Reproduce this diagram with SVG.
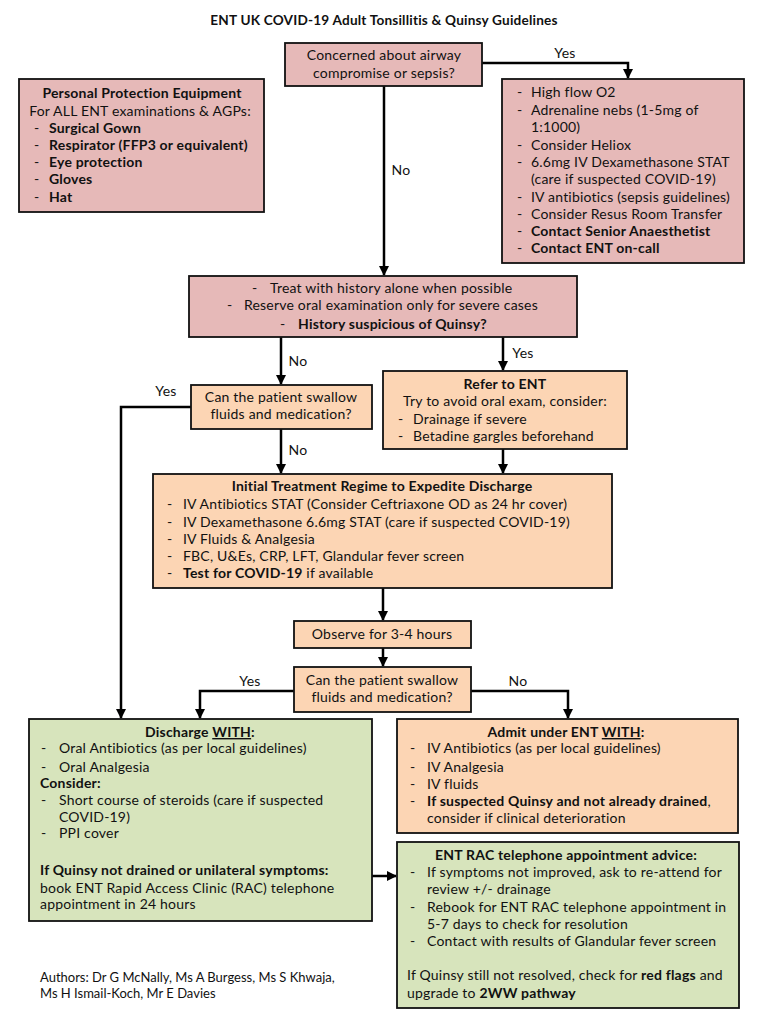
<svg xmlns="http://www.w3.org/2000/svg" width="768" height="1024" viewBox="0 0 768 1024">
<style>
text{font-family:Lato,"Open Sans","Liberation Sans",sans-serif;font-size:14px;letter-spacing:0.2px;fill:#111}
.b{font-weight:bold}
.c{text-anchor:middle}
.pink{fill:#e6b9b8;stroke:#111;stroke-width:1.8}
.peach{fill:#fcd5b4;stroke:#111;stroke-width:1.8}
.green{fill:#d7e4bc;stroke:#111;stroke-width:1.8}
.ln{fill:none;stroke:#000;stroke-width:2.5}
</style>
<defs>
<marker id="ah" viewBox="0 0 10 10" refX="9" refY="5" markerWidth="4" markerHeight="4" orient="auto" markerUnits="strokeWidth">
<path d="M0,0 L10,5 L0,10 Z" fill="#000"/>
</marker>
</defs>
<rect width="768" height="1024" fill="#fff"/>
<text x="384" y="25" class="b c" style="font-size:13.6px">ENT UK COVID-19 Adult Tonsillitis &amp; Quinsy Guidelines</text>

<g id="connectors">
<polyline class="ln" points="482,63 628,63 628,78" marker-end="url(#ah)"/>
<polyline class="ln" points="384,86 384,275" marker-end="url(#ah)"/>
<polyline class="ln" points="281,337 281,384" marker-end="url(#ah)"/>
<polyline class="ln" points="503,337 503,370" marker-end="url(#ah)"/>
<polyline class="ln" points="191,407 121,407 121,718" marker-end="url(#ah)"/>
<polyline class="ln" points="281,429 281,473" marker-end="url(#ah)"/>
<polyline class="ln" points="503,449 503,473" marker-end="url(#ah)"/>
<polyline class="ln" points="383,588 383,620" marker-end="url(#ah)"/>
<polyline class="ln" points="383,648 383,666" marker-end="url(#ah)"/>
<polyline class="ln" points="294,691 200,691 200,718" marker-end="url(#ah)"/>
<polyline class="ln" points="471,691 568,691 568,718" marker-end="url(#ah)"/>
<polyline class="ln" points="372,876 396,876" marker-end="url(#ah)"/>
<text x="565" y="58" class="c">Yes</text>
<text x="401" y="175" class="c">No</text>
<text x="298" y="366" class="c">No</text>
<text x="523" y="358" class="c">Yes</text>
<text x="166" y="396" class="c">Yes</text>
<text x="298" y="455" class="c">No</text>
<text x="250" y="686" class="c">Yes</text>
<text x="518" y="686" class="c">No</text>
</g>

<g id="airway">
<rect class="pink" x="285" y="43" width="197" height="43"/>
<text x="384" y="60" class="c">Concerned about airway</text>
<text x="384" y="78" class="c">compromise or sepsis?</text>
</g>

<g id="ppe">
<rect class="pink" x="19" y="79" width="245" height="133"/>
<text x="142" y="98" class="b c">Personal Protection Equipment</text>
<text x="140" y="116" class="c">For ALL ENT examinations &amp; AGPs:</text>
<text x="34" y="133">-</text><text x="49" y="133" class="b">Surgical Gown</text>
<text x="34" y="150">-</text><text x="49" y="150" class="b">Respirator (FFP3 or equivalent)</text>
<text x="34" y="167">-</text><text x="49" y="167" class="b">Eye protection</text>
<text x="34" y="184">-</text><text x="49" y="184" class="b">Gloves</text>
<text x="34" y="202">-</text><text x="49" y="202" class="b">Hat</text>
</g>

<g id="airway-actions">
<rect class="pink" x="502" y="79" width="242" height="184"/>
<text x="517" y="97">-</text><text x="531" y="97">High flow O2</text>
<text x="517" y="115">-</text><text x="531" y="115">Adrenaline nebs (1-5mg of</text>
<text x="531" y="132">1:1000)</text>
<text x="517" y="150">-</text><text x="531" y="150">Consider Heliox</text>
<text x="517" y="167">-</text><text x="531" y="167">6.6mg IV Dexamethasone STAT</text>
<text x="531" y="184">(care if suspected COVID-19)</text>
<text x="517" y="202">-</text><text x="531" y="202">IV antibiotics (sepsis guidelines)</text>
<text x="517" y="219">-</text><text x="531" y="219">Consider Resus Room Transfer</text>
<text x="517" y="236">-</text><text x="531" y="236" class="b">Contact Senior Anaesthetist</text>
<text x="517" y="253">-</text><text x="531" y="253" class="b">Contact ENT on-call</text>
</g>

<g id="history">
<rect class="pink" x="189" y="276" width="388" height="61"/>
<text x="252" y="293">-</text><text x="270" y="293">Treat with history alone when possible</text>
<text x="227" y="310">-</text><text x="244" y="310">Reserve oral examination only for severe cases</text>
<text x="280" y="329">-</text><text x="298" y="329" class="b">History suspicious of Quinsy?</text>
</g>

<g id="swallow1">
<rect class="peach" x="191" y="385" width="181" height="44"/>
<text x="281" y="402" class="c">Can the patient swallow</text>
<text x="281" y="419" class="c">fluids and medication?</text>
</g>

<g id="refer">
<rect class="peach" x="383" y="371" width="244" height="78"/>
<text x="505" y="389" class="b c">Refer to ENT</text>
<text x="505" y="406" class="c">Try to avoid oral exam, consider:</text>
<text x="398" y="424">-</text><text x="413" y="424">Drainage if severe</text>
<text x="398" y="441">-</text><text x="413" y="441">Betadine gargles beforehand</text>
</g>

<g id="initial">
<rect class="peach" x="153" y="474" width="459" height="114"/>
<text x="382" y="491" class="b c">Initial Treatment Regime to Expedite Discharge</text>
<text x="167" y="509">-</text><text x="183" y="509">IV Antibiotics STAT (Consider Ceftriaxone OD as 24 hr cover)</text>
<text x="167" y="527">-</text><text x="183" y="527">IV Dexamethasone 6.6mg STAT (care if suspected COVID-19)</text>
<text x="167" y="544">-</text><text x="183" y="544">IV Fluids &amp; Analgesia</text>
<text x="167" y="561">-</text><text x="183" y="561">FBC, U&amp;Es, CRP, LFT, Glandular fever screen</text>
<text x="167" y="578">-</text><text x="183" y="578"><tspan class="b">Test for COVID-19</tspan> if available</text>
</g>

<g id="observe">
<rect class="peach" x="294" y="621" width="177" height="27"/>
<text x="382" y="639" class="c">Observe for 3-4 hours</text>
</g>

<g id="swallow2">
<rect class="peach" x="294" y="667" width="177" height="45"/>
<text x="382" y="685" class="c">Can the patient swallow</text>
<text x="382" y="702" class="c">fluids and medication?</text>
</g>

<g id="discharge">
<rect class="green" x="29" y="719" width="343" height="202"/>
<text x="200" y="737" class="b c">Discharge <tspan text-decoration="underline">WITH</tspan>:</text>
<text x="41" y="753">-</text><text x="59" y="753">Oral Antibiotics (as per local guidelines)</text>
<text x="41" y="772">-</text><text x="59" y="772">Oral Analgesia</text>
<text x="40" y="788" class="b">Consider:</text>
<text x="41" y="805">-</text><text x="59" y="805">Short course of steroids (care if suspected</text>
<text x="59" y="822">COVID-19)</text>
<text x="41" y="838">-</text><text x="59" y="838">PPI cover</text>
<text x="40" y="875" class="b">If Quinsy not drained or unilateral symptoms:</text>
<text x="40" y="893">book ENT Rapid Access Clinic (RAC) telephone</text>
<text x="40" y="909">appointment in 24 hours</text>
</g>

<g id="admit">
<rect class="peach" x="397" y="719" width="341" height="114"/>
<text x="566" y="737" class="b c">Admit under ENT <tspan text-decoration="underline">WITH</tspan>:</text>
<text x="410" y="753">-</text><text x="427" y="753">IV Antibiotics (as per local guidelines)</text>
<text x="410" y="772">-</text><text x="427" y="772">IV Analgesia</text>
<text x="410" y="789">-</text><text x="427" y="789">IV fluids</text>
<text x="410" y="806">-</text><text x="427" y="806"><tspan class="b">If suspected Quinsy and not already drained</tspan>,</text>
<text x="427" y="823">consider if clinical deterioration</text>
</g>

<g id="rac">
<rect class="green" x="397" y="842" width="342" height="166"/>
<text x="566" y="860" class="b c">ENT RAC telephone appointment advice:</text>
<text x="410" y="877">-</text><text x="427" y="877">If symptoms not improved, ask to re-attend for</text>
<text x="427" y="894">review +/- drainage</text>
<text x="410" y="912">-</text><text x="427" y="912">Rebook for ENT RAC telephone appointment in</text>
<text x="427" y="929">5-7 days to check for resolution</text>
<text x="410" y="946">-</text><text x="427" y="946">Contact with results of Glandular fever screen</text>
<text x="407" y="980">If Quinsy still not resolved, check for <tspan class="b">red flags</tspan> and</text>
<text x="407" y="998">upgrade to <tspan class="b">2WW pathway</tspan></text>
</g>

<g id="authors">
<text x="40" y="982" style="font-size:13px;letter-spacing:0">Authors: Dr G McNally, Ms A Burgess, Ms S Khwaja,</text>
<text x="40" y="998" style="font-size:13px;letter-spacing:0">Ms H Ismail-Koch, Mr E Davies</text>
</g>
</svg>
